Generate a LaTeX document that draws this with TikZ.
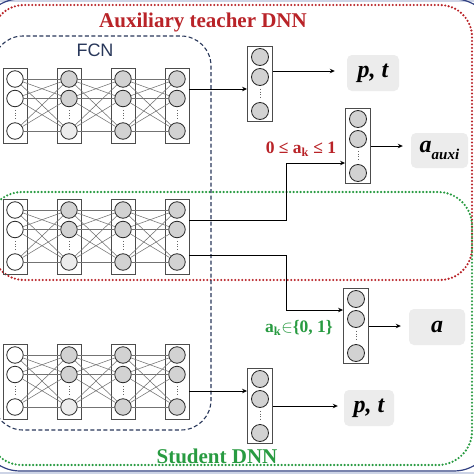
\documentclass[tikz,border=0pt]{standalone}
\usepackage{fontspec}
\setmainfont{Liberation Serif}
\newfontfamily\fcnfont{Liberation Sans}
\usetikzlibrary{arrows.meta,calc}
\definecolor{auxred}{RGB}{185,35,40}
\definecolor{stugreen}{RGB}{40,155,65}
\definecolor{fcnblue}{RGB}{40,55,90}
\definecolor{cellgray}{RGB}{210,210,210}
\definecolor{celllight}{RGB}{236,236,236}
\definecolor{outgray}{RGB}{236,236,236}
\definecolor{framelight}{RGB}{205,212,230}
\definecolor{framedark}{RGB}{50,65,130}
\tikzset{
  layerbox/.style={draw=black!70, line width=0.9pt, minimum width=24pt, minimum height=75pt, inner sep=0pt},
  cell/.style={circle, draw=black!85, line width=0.8pt, minimum size=16.5pt, inner sep=0pt, fill=#1},
  cell/.default=cellgray,
  headbox/.style={draw=black!70, line width=0.9pt, minimum width=25pt, minimum height=75pt, inner sep=0pt},
  hcell/.style={circle, draw=black!85, line width=0.8pt, minimum size=17pt, inner sep=0pt, fill=cellgray},
  link/.style={draw=black!55, line width=0.55pt},
  vdots/.style={draw=black!60, line width=0.6pt, dash pattern=on 0.8pt off 1.8pt, shorten <=3pt, shorten >=3pt},
  arr/.style={draw=black, line width=0.9pt, -{Stealth[length=5pt,width=4.5pt]}},
  outbox/.style={fill=outgray, rounded corners=5pt, inner sep=0pt, font=\fontsize{24}{24}\selectfont\bfseries\itshape},
  reddots/.style={draw=auxred, line width=2.4pt, dash pattern=on 0pt off 3.5pt, line cap=round},
  greendots/.style={draw=stugreen, line width=2.4pt, dash pattern=on 0pt off 3.5pt, line cap=round},
  fcndash/.style={draw=fcnblue, line width=1.1pt, dash pattern=on 4pt off 2.5pt},
  redlabel/.style={text=auxred, font=\fontsize{17.5}{17.5}\selectfont\bfseries},
  greenlabel/.style={text=stugreen, font=\fontsize{17.5}{17.5}\selectfont\bfseries},
  titlered/.style={text=auxred, font=\fontsize{21}{21}\selectfont\bfseries},
  titlegreen/.style={text=stugreen, font=\fontsize{21}{21}\selectfont\bfseries},
}
\newcommand\fcnnet[2]{%
  \foreach \l in {1,2,3,4}{
    \pgfmathsetmacro\xx{15+54*(\l-1)}
    \node[layerbox] (#1-\l) at (\xx,#2+37.5) {};
    \ifnum\l=1
      \node[cell=white] (#1-\l-1) at (\xx,#2+11) {};
      \node[cell=white] (#1-\l-2) at (\xx,#2+30.5) {};
      \node[cell=white] (#1-\l-3) at (\xx,#2+63) {};
    \else
      \node[cell] (#1-\l-1) at (\xx,#2+11) {};
      \node[cell] (#1-\l-2) at (\xx,#2+30.5) {};
      \ifnum\l=2
        \node[cell=celllight] (#1-\l-3) at (\xx,#2+63) {};
      \else
        \node[cell] (#1-\l-3) at (\xx,#2+63) {};
      \fi
    \fi
    \draw[vdots] (#1-\l-2.south) -- (#1-\l-3.north);
  }
  \foreach \l/\nl in {1/2,2/3,3/4}{
    \foreach \i in {1,2,3}{
      \foreach \j in {1,2,3}{
        \draw[link] (#1-\l-\i) -- (#1-\nl-\j);
      }
    }
  }
}
\newcommand\headnet[3]{%
  \node[headbox] (#1) at (#2,#3+37.5) {};
  \node[hcell] (#1-1) at (#2,#3+11) {};
  \node[hcell] (#1-2) at (#2,#3+31) {};
  \node[hcell] (#1-3) at (#2,#3+65) {};
  \draw[vdots] (#1-2.south) -- (#1-3.north);
}
\begin{document}
\begin{tikzpicture}[x=1pt,y=-1pt]
\useasboundingbox (0,0) rectangle (474,474);
\clip (0,0) rectangle (474,474);
\fill[white] (0,0) rectangle (474,474);
% frame
\fill[framelight] (0,0) rectangle (474,1.5);
\fill[framelight] (0,471.5) rectangle (474,474);
\draw[framedark, line width=1.2pt, rounded corners=40pt] (-20,-1) rectangle (494,471);
% grouping boxes
\draw[reddots, rounded corners=32pt] (-8,5) rectangle (472,280);
\draw[greendots, rounded corners=34pt] (-12,192) rectangle (472,465);
\draw[fcndash, rounded corners=30pt] (-7,36) rectangle (211,430);
\node[text=fcnblue, font=\fcnfont\fontsize{18}{18}\selectfont] (fcnlabel) at (95,50) {FCN};
\node[titlered] (auxtitle) at (203,22) {Auxiliary teacher DNN};
\node[titlegreen] (stutitle) at (217,456) {Student DNN};
% networks
\fcnnet{n1}{68}
\fcnnet{n2}{199}
\fcnnet{n3}{344}
% heads
\headnet{h1}{260}{46}
\headnet{h2}{358}{108}
\headnet{h3}{356}{288}
\headnet{h4}{260}{368}
% outputs
\node[outbox, minimum width=52pt, minimum height=36pt] (o1) at (373,73) {p, t};
\node[outbox, minimum width=57pt, minimum height=35pt] (o2) at (439.5,150.5) {a\raisebox{-0.28em}{\fontsize{15}{15}\selectfont auxi}};
\node[outbox, minimum width=56pt, minimum height=36pt] (o3) at (437,327) {a};
\node[outbox, minimum width=50pt, minimum height=36pt] (o4) at (369,408) {p, t};
% junctions
\coordinate (j1) at (286,163);
\coordinate (j2) at (286,310);
% connectors
\draw[arr] (n1-4.east |- 0,89) -- (h1.west |- 0,89);
\draw[arr, shorten >=12pt] (h1.east |- 0,71) -- (o1.west |- 0,71);
\draw[arr] (n2-4.east |- 0,220) -| (j1) -- (h2.west |- j1);
\draw[arr, shorten >=8pt] (h2.east |- 0,146) -- (o2.west |- 0,146);
\draw[arr] (n2-4.east |- 0,255) -| (j2) -- (h3.west |- j2);
\draw[arr, shorten >=8pt] (h3.east |- 0,326) -- (o3.west |- 0,326);
\draw[arr] (n3-4.east |- 0,391) -- (h4.west |- 0,391);
\draw[arr, shorten >=6pt] (h4.east |- 0,406) -- (o4.west |- 0,406);
% labels
\node[redlabel] (lab1) at (301,149) {0 ≤ a\textsubscript{k} ≤ 1};
\node[greenlabel] (lab2) at (299,328) {a\textsubscript{k}$\in$\{0, 1\}};
\end{tikzpicture}
\end{document}
